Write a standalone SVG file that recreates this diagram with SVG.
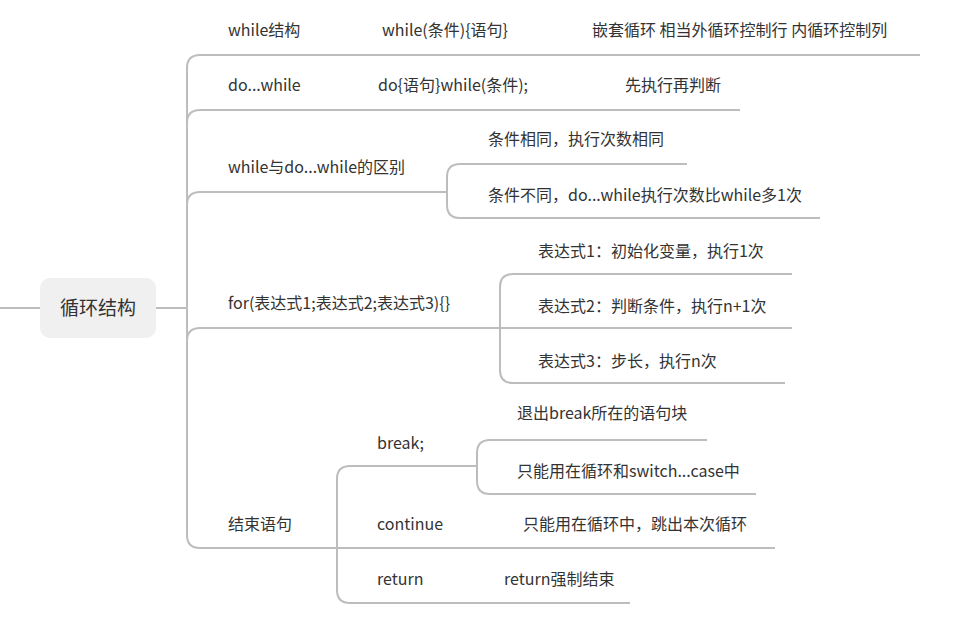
<svg xmlns="http://www.w3.org/2000/svg" width="966" height="624" viewBox="0 0 966 624">
<style>
.l{fill:none;stroke:#bdbdbd;stroke-width:2}
text{font-family:"Noto Sans CJK SC","Open Sans",sans-serif;font-size:16px;fill:#333}
</style>
<rect width="966" height="624" fill="#fff"/>
<g id="connectors" class="l">
<path d="M0 308H40M156 308H187"/>
<path d="M920 55H200Q187 55 187 68V535Q187 548 200 548H337"/>
<path d="M187 123Q187 110 200 110H740"/>
<path d="M187 205Q187 192 200 192H447"/>
<path d="M187 341Q187 328 200 328H500"/>
<path d="M687 164H460Q447 164 447 177V205Q447 218 460 218H820"/>
<path d="M792 274H513Q500 274 500 287V370Q500 383 513 383H785M500 328H792"/>
<path d="M350 466Q337 466 337 479V590Q337 603 350 603H630M337 548H775M350 466H477"/>
<path d="M707 440H490Q477 440 477 453V481Q477 494 490 494H756"/>
</g>
<g id="root"><rect x="40" y="278" width="116" height="60" rx="10" fill="#f0f0f0"/><text x="98" y="315" text-anchor="middle" style="font-size:19px">循环结构</text></g>
<g id="n1"><text x="228" y="36">while结构</text><text x="382" y="36">while(条件){语句}</text><text x="592" y="36">嵌套循环 相当外循环控制行 内循环控制列</text></g>
<g id="n2"><text x="228" y="91">do...while</text><text x="378" y="91">do{语句}while(条件);</text><text x="625" y="91">先执行再判断</text></g>
<g id="n3"><text x="228" y="173">while与do...while的区别</text><text x="488" y="145">条件相同，执行次数相同</text><text x="488" y="201">条件不同，do...while执行次数比while多1次</text></g>
<g id="n4"><text x="228" y="309">for(表达式1;表达式2;表达式3){}</text><text x="538" y="257">表达式1：初始化变量，执行1次</text><text x="538" y="312">表达式2：判断条件，执行n+1次</text><text x="538" y="367">表达式3：步长，执行n次</text></g>
<g id="n5"><text x="228" y="530">结束语句</text><text x="377" y="449">break;</text><text x="517" y="419">退出break所在的语句块</text><text x="517" y="477">只能用在循环和switch...case中</text><text x="377" y="530">continue</text><text x="523" y="530">只能用在循环中，跳出本次循环</text><text x="377" y="585">return</text><text x="504" y="585">return强制结束</text></g>
</svg>
